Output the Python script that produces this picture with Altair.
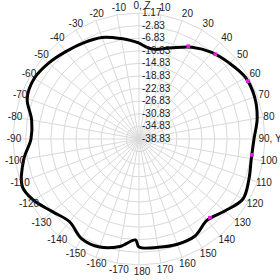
import altair as alt
import pandas as pd

# ---- data ----
R_MIN = -38.83
R_MAX = 1.17
tick_values = [-38.83, -34.83, -30.83, -26.83, -22.83, -18.83, -14.83, -10.83, -6.83, -2.83, 1.17]
tick_labels = ["-38.83", "-34.83", "-30.83", "-26.83", "-22.83", "-18.83", "-14.83", "-10.83", "-6.83", "-2.83", "1.17"]

cat_angles = [0, 10, 20, 30, 40, 50, 60, 70, 80, 90, 100, 110, 120, 130, 140, 150, 160, 170, 180,
              -170, -160, -150, -140, -130, -120, -110, -100, -90, -80, -70, -60, -50, -40, -30, -20, -10]
cat_labels = ["0, Z", "10", "20", "30", "40", "50", "60", "70", "80", "90, Y", "100", "110", "120", "130",
              "140", "150", "160", "170", "180", "-170", "-160", "-150", "-140", "-130", "-120", "-110",
              "-100", "-90", "-80", "-70", "-60", "-50", "-40", "-30", "-20", "-10"]

pat_angles = [0, 5, 10, 15, 20, 30, 40, 50, 60, 70, 80, 90, 100, 110, 120, 130, 140, 150, 160, 170, 180,
              -178, -170, -160, -150, -140, -130, -120, -112, -100, -90, -80, -70, -60, -50, -40, -30,
              -20, -10, -5, 0]
pat_gain = [-8.35, -9.62, -9.94, -9.15, -8.03, -5.18, -2.95, -1.36, 0.22, 0.22, -0.73, -2.32, -2.63,
            -1.68, -0.73, -3.27, -5.18, -3.27, -3.27, -3.91, -4.54,
            -6.76, -4.20, -2.32, -2.32, -4.54, -2.95, -0.10, 1.17, -1.68, -4.54, -4.23, -1.05, -0.41,
            -1.36, -2.63, -3.59, -4.54, -6.45, -7.40, -8.35]

mark_angles = [28, 42, 62, 98, 138]
mark_gain = [-5.50, -2.64, 0.30, -2.64, -5.18]

# ---- geometry (pixels) ----
W = H = 280
CX, CY, RPX = 139, 139, 126
xs = alt.Scale(domain=[-CX / RPX, (W - CX) / RPX], nice=False, zero=False)
ys = alt.Scale(domain=[-(H - CY) / RPX, CY / RPX], nice=False, zero=False)
SPAN = R_MAX - R_MIN
RN = f"(datum.v - ({R_MIN})) / {SPAN}"
RAD = "datum.a * PI / 180"

def X(f):
    return alt.X(f"{f}:Q", scale=xs, axis=None)

def Y(f):
    return alt.Y(f"{f}:Q", scale=ys, axis=None)

grid_color = "#d9d9d9"

# rings (polygons through category angles)
ring_rows = []
for lv in tick_values[1:]:
    for i, a in enumerate(range(0, 361, 10)):
        ring_rows.append({"lv": lv, "a": a, "i": i})
rings = alt.Chart(pd.DataFrame(ring_rows)).transform_calculate(
    rn=f"(datum.lv - ({R_MIN})) / {SPAN}"
).transform_calculate(
    x=f"datum.rn * sin({RAD})", y=f"datum.rn * cos({RAD})"
).mark_line(color=grid_color, strokeWidth=1).encode(
    x=X("x"), y=Y("y"), detail="lv:N", order="i:Q"
)

# spokes
spokes = alt.Chart(pd.DataFrame({"a": cat_angles})).transform_calculate(
    x0="0", y0="0", x=f"sin({RAD})", y=f"cos({RAD})"
).mark_rule(color=grid_color, strokeWidth=1).encode(
    x=X("x0"), y=Y("y0"), x2="x:Q", y2="y:Q"
)

# radial tick labels
rlabels = alt.Chart(pd.DataFrame({"v": tick_values, "t": tick_labels})).transform_calculate(
    x0="0", y=RN
).mark_text(align="left", baseline="middle", dx=3, font="Liberation Sans", fontSize=10,
            color="#222222").encode(x=X("x0"), y=Y("y"), text="t:N")

# category labels
clabels = alt.Chart(pd.DataFrame({"a": cat_angles, "t": cat_labels})).transform_calculate(
    lr=f"(128 + 5 * abs(cos({RAD}))) / {RPX}"
).transform_calculate(
    x=f"datum.lr * sin({RAD})", y=f"datum.lr * cos({RAD})"
).mark_text(align="center", baseline="middle", dx=3, font="Liberation Sans", fontSize=10,
            color="#222222").encode(x=X("x"), y=Y("y"), text="t:N")

# pattern line
pat = pd.DataFrame({"a": pat_angles, "v": pat_gain, "i": list(range(len(pat_angles)))})
line = alt.Chart(pat).transform_calculate(rn=RN).transform_calculate(
    x=f"datum.rn * sin({RAD})", y=f"datum.rn * cos({RAD})"
).mark_line(color="black", strokeWidth=3, interpolate="catmull-rom").encode(
    x=X("x"), y=Y("y"), order="i:Q"
)

# magenta markers
marks = alt.Chart(pd.DataFrame({"a": mark_angles, "v": mark_gain})).transform_calculate(
    rn=RN).transform_calculate(
    x=f"datum.rn * sin({RAD})", y=f"datum.rn * cos({RAD})"
).mark_square(color="#e020e0", size=14, opacity=1).encode(x=X("x"), y=Y("y"))

chart = alt.layer(rings, spokes, line, marks, rlabels, clabels).properties(
    width=W, height=H, padding=0, autosize="none"
).configure_view(stroke=None)

chart.save("out.html", embed_options={"renderer": "svg", "actions": False})
